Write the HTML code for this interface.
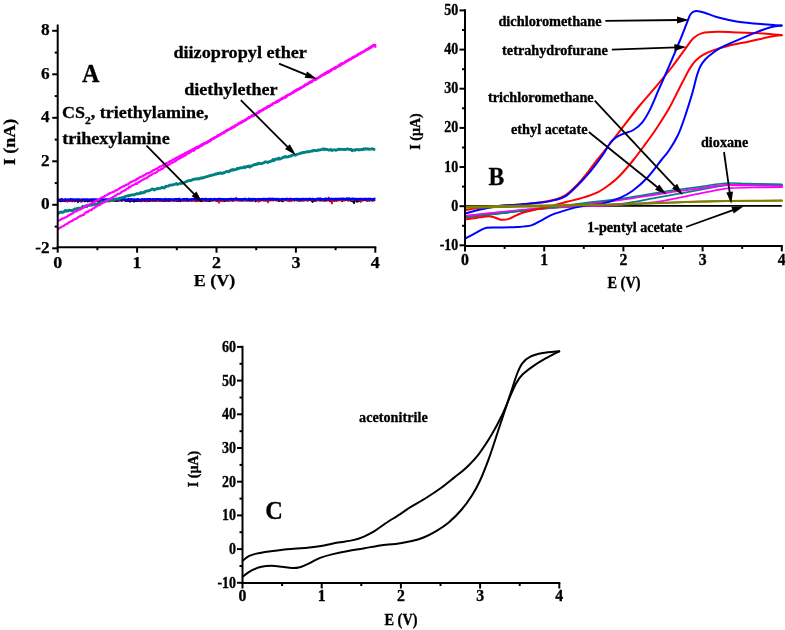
<!DOCTYPE html><html><head><meta charset="utf-8"><title>Figure</title><style>html,body{margin:0;padding:0;background:#fff}svg{display:block}text{font-family:"Liberation Serif","Times New Roman",serif;font-weight:bold;fill:#000}</style></head><body>
<svg width="785" height="630" viewBox="0 0 785 630">
<rect width="785" height="630" fill="#fff"/>
<g id="panelA">
<polyline points="57.7,200.6 58.7,201.0 59.6,201.1 60.6,201.6 61.6,201.2 62.5,201.3 63.5,201.3 64.5,201.2 65.4,201.4 66.4,200.9 67.4,200.9 68.3,200.6 69.3,201.1 70.2,201.2 71.2,201.2 72.2,201.5 73.1,200.8 74.1,201.4 75.1,201.4 76.0,201.1 77.0,200.7 78.0,202.3 78.9,201.2 79.9,200.9 80.9,201.1 81.8,201.6 82.8,200.9 83.8,200.5 84.7,201.4 85.7,201.2 86.7,201.3 87.6,201.7 88.6,201.3 89.6,201.3 90.5,200.7 91.5,201.1 92.5,201.5 93.4,201.3 94.4,201.5 95.3,201.2 96.3,201.2 97.3,201.2 98.2,201.0 99.2,201.6 100.2,201.1 101.1,200.7 102.1,200.8 103.1,200.7 104.0,200.7 105.0,200.6 106.0,201.3 106.9,200.8 107.9,201.5 108.9,201.2 109.8,201.5 110.8,200.7 111.8,200.6 112.7,201.0 113.7,200.5 114.7,201.2 115.6,200.9 116.6,200.9 117.6,201.3 118.5,200.9 119.5,200.5 120.4,200.1 121.4,201.0 122.4,200.5 123.3,200.0 124.3,200.8 125.3,200.9 126.2,201.3 127.2,200.6 128.2,201.3 129.1,200.9 130.1,201.9 131.1,200.9 132.0,200.7 133.0,201.2 134.0,201.7 134.9,201.2 135.9,201.1 136.9,201.1 137.8,201.2 138.8,200.8 139.8,201.2 140.7,200.8 141.7,201.5 142.7,200.4 143.6,200.7 144.6,201.3 145.5,200.9 146.5,199.2 147.5,200.9 148.4,201.1 149.4,201.1 150.4,200.7 151.3,200.8 152.3,201.0 153.3,201.0 154.2,201.0 155.2,200.7 156.2,201.1 157.1,200.8 158.1,200.7 159.1,200.8 160.0,201.1 161.0,200.5 162.0,201.1 162.9,200.8 163.9,201.1 164.9,201.3 165.8,200.8 166.8,200.9 167.7,200.8 168.7,201.0 169.7,201.3 170.6,200.4 171.6,200.7 172.6,200.3 173.5,201.0 174.5,201.0 175.5,200.6 176.4,201.0 177.4,201.3 178.4,201.1 179.3,200.7 180.3,201.5 181.3,200.7 182.2,200.7 183.2,200.9 184.2,200.6 185.1,200.7 186.1,201.1 187.1,200.6 188.0,201.2 189.0,200.8 190.0,200.8 190.9,200.7 191.9,201.0 192.8,200.8 193.8,199.6 194.8,201.0 195.7,200.8 196.7,200.9 197.7,201.2 198.6,200.1 199.6,200.8 200.6,201.2 201.5,200.4 202.5,201.1 203.5,200.7 204.4,200.6 205.4,201.0 206.4,200.9 207.3,200.9 208.3,200.8 209.3,201.2 210.2,201.1 211.2,200.8 212.2,200.5 213.1,200.6 214.1,200.3 215.1,200.6 216.0,200.9 217.0,200.8 217.9,201.3 218.9,201.0 219.9,201.0 220.8,200.7 221.8,200.6 222.8,200.9 223.7,200.9 224.7,201.2 225.7,200.8 226.6,200.7 227.6,200.6 228.6,201.0 229.5,200.2 230.5,200.4 231.5,200.8 232.4,200.9 233.4,200.8 234.4,200.7 235.3,200.1 236.3,200.5 237.3,200.4 238.2,200.4 239.2,200.8 240.2,200.6 241.1,200.8 242.1,200.9 243.0,200.2 244.0,200.8 245.0,200.2 245.9,200.8 246.9,200.6 247.9,200.4 248.8,200.7 249.8,200.9 250.8,200.8 251.7,200.7 252.7,200.9 253.7,200.5 254.6,200.2 255.6,201.4 256.6,200.7 257.5,200.5 258.5,200.8 259.5,200.4 260.4,200.9 261.4,200.6 262.4,199.9 263.3,200.6 264.3,200.6 265.3,200.8 266.2,200.6 267.2,201.0 268.1,200.7 269.1,200.0 270.1,200.4 271.0,200.5 272.0,200.4 273.0,200.2 273.9,200.5 274.9,200.1 275.9,200.4 276.8,200.6 277.8,200.2 278.8,201.3 279.7,200.8 280.7,200.6 281.7,200.9 282.6,201.5 283.6,200.8 284.6,199.9 285.5,200.5 286.5,200.3 287.5,200.7 288.4,200.4 289.4,200.5 290.3,200.2 291.3,201.0 292.3,200.3 293.2,199.5 294.2,200.8 295.2,200.2 296.1,199.6 297.1,200.6 298.1,200.4 299.0,201.0 300.0,200.8 301.0,200.5 301.9,200.6 302.9,200.4 303.9,200.8 304.8,200.1 305.8,200.0 306.8,200.6 307.7,200.6 308.7,200.5 309.7,200.3 310.6,200.1 311.6,200.9 312.6,202.1 313.5,200.9 314.5,201.0 315.4,200.5 316.4,200.9 317.4,200.2 318.3,200.3 319.3,200.8 320.3,200.8 321.2,200.7 322.2,200.2 323.2,200.8 324.1,200.9 325.1,200.6 326.1,200.5 327.0,200.7 328.0,200.1 329.0,200.5 329.9,201.5 330.9,200.6 331.9,200.6 332.8,201.1 333.8,200.5 334.8,201.0 335.7,200.5 336.7,200.9 337.7,200.0 338.6,200.4 339.6,200.3 340.5,200.3 341.5,200.9 342.5,201.1 343.4,200.6 344.4,200.3 345.4,200.5 346.3,200.3 347.3,200.3 348.3,200.9 349.2,197.9 350.2,200.7 351.2,201.0 352.1,201.2 353.1,201.6 354.1,203.4 355.0,200.3 356.0,200.1 357.0,202.1 357.9,200.4 358.9,201.3 359.9,200.4 360.8,200.5 361.8,200.7 362.8,200.4 363.7,200.4 364.7,200.2 365.6,200.1 366.6,201.0 367.6,200.8 368.5,200.6 369.5,200.4 370.5,200.5 371.4,200.1 372.4,201.0 373.4,200.4 374.3,200.5 375.3,200.3" fill="none" stroke="#000" stroke-width="1.6" stroke-linejoin="round"/>
<polyline points="57.7,200.6 58.7,200.0 59.6,200.5 60.6,200.1 61.6,200.5 62.5,200.0 63.5,200.9 64.5,200.3 65.4,200.6 66.4,200.4 67.4,201.8 68.3,200.8 69.3,200.7 70.2,200.3 71.2,201.0 72.2,200.4 73.1,200.8 74.1,200.8 75.1,200.5 76.0,200.3 77.0,200.6 78.0,200.6 78.9,200.4 79.9,200.5 80.9,201.9 81.8,200.4 82.8,200.1 83.8,199.8 84.7,200.2 85.7,200.4 86.7,200.7 87.6,200.4 88.6,200.1 89.6,200.0 90.5,200.7 91.5,200.3 92.5,200.1 93.4,199.8 94.4,200.3 95.3,200.5 96.3,200.6 97.3,200.5 98.2,200.6 99.2,200.1 100.2,200.0 101.1,198.3 102.1,200.5 103.1,200.2 104.0,200.5 105.0,200.3 106.0,200.0 106.9,200.4 107.9,200.9 108.9,200.4 109.8,200.6 110.8,200.8 111.8,200.6 112.7,200.0 113.7,199.8 114.7,200.5 115.6,200.0 116.6,200.0 117.6,200.7 118.5,200.3 119.5,200.3 120.4,200.3 121.4,200.8 122.4,200.4 123.3,200.0 124.3,199.9 125.3,199.8 126.2,200.4 127.2,199.7 128.2,200.1 129.1,200.7 130.1,200.1 131.1,200.4 132.0,200.1 133.0,200.3 134.0,199.9 134.9,200.2 135.9,200.4 136.9,200.0 137.8,200.2 138.8,200.4 139.8,200.5 140.7,201.3 141.7,200.7 142.7,200.4 143.6,199.7 144.6,200.5 145.5,200.3 146.5,201.5 147.5,199.8 148.4,200.0 149.4,200.4 150.4,200.3 151.3,200.5 152.3,200.5 153.3,200.5 154.2,200.5 155.2,199.2 156.2,200.1 157.1,200.3 158.1,200.8 159.1,200.5 160.0,200.0 161.0,198.9 162.0,200.3 162.9,200.8 163.9,199.9 164.9,199.9 165.8,200.7 166.8,200.2 167.7,199.9 168.7,200.5 169.7,199.7 170.6,200.3 171.6,200.5 172.6,199.8 173.5,200.1 174.5,199.1 175.5,200.8 176.4,199.7 177.4,200.5 178.4,200.1 179.3,200.3 180.3,200.1 181.3,199.9 182.2,200.4 183.2,200.0 184.2,200.3 185.1,200.4 186.1,200.3 187.1,200.5 188.0,200.4 189.0,199.9 190.0,200.2 190.9,199.8 191.9,200.0 192.8,200.5 193.8,200.7 194.8,200.4 195.7,200.1 196.7,201.4 197.7,199.9 198.6,200.7 199.6,200.5 200.6,200.1 201.5,199.5 202.5,200.0 203.5,200.5 204.4,200.0 205.4,198.5 206.4,200.3 207.3,200.4 208.3,200.1 209.3,200.0 210.2,199.6 211.2,199.5 212.2,200.4 213.1,200.3 214.1,200.1 215.1,200.2 216.0,199.2 217.0,200.0 217.9,200.0 218.9,202.8 219.9,200.4 220.8,200.4 221.8,200.7 222.8,199.9 223.7,200.1 224.7,200.2 225.7,200.4 226.6,200.6 227.6,200.4 228.6,199.5 229.5,200.8 230.5,200.1 231.5,199.9 232.4,200.0 233.4,200.2 234.4,199.9 235.3,200.4 236.3,197.7 237.3,200.4 238.2,200.3 239.2,200.0 240.2,199.8 241.1,199.7 242.1,199.9 243.0,200.3 244.0,200.4 245.0,200.0 245.9,199.9 246.9,200.4 247.9,200.0 248.8,200.0 249.8,199.7 250.8,199.5 251.7,200.4 252.7,200.2 253.7,200.1 254.6,199.6 255.6,199.0 256.6,200.0 257.5,199.9 258.5,201.8 259.5,199.8 260.4,200.4 261.4,199.5 262.4,199.6 263.3,199.9 264.3,200.3 265.3,199.5 266.2,199.9 267.2,200.0 268.1,202.4 269.1,199.9 270.1,199.7 271.0,199.7 272.0,200.3 273.0,199.8 273.9,199.9 274.9,200.0 275.9,200.2 276.8,199.7 277.8,199.6 278.8,199.9 279.7,199.7 280.7,199.6 281.7,199.5 282.6,199.9 283.6,200.1 284.6,200.1 285.5,200.0 286.5,199.8 287.5,199.7 288.4,200.1 289.4,201.4 290.3,200.2 291.3,201.0 292.3,200.1 293.2,200.2 294.2,199.4 295.2,199.9 296.1,200.0 297.1,200.2 298.1,200.1 299.0,199.8 300.0,199.4 301.0,200.4 301.9,200.2 302.9,200.0 303.9,200.1 304.8,200.4 305.8,199.9 306.8,199.7 307.7,200.4 308.7,199.9 309.7,199.6 310.6,200.3 311.6,199.2 312.6,199.8 313.5,200.2 314.5,199.6 315.4,200.3 316.4,199.6 317.4,200.3 318.3,199.7 319.3,200.1 320.3,198.4 321.2,199.7 322.2,199.6 323.2,200.5 324.1,199.1 325.1,198.5 326.1,198.8 327.0,199.9 328.0,199.6 329.0,197.5 329.9,200.5 330.9,199.4 331.9,203.5 332.8,200.2 333.8,199.9 334.8,199.9 335.7,199.6 336.7,199.9 337.7,199.9 338.6,200.5 339.6,199.7 340.5,200.2 341.5,200.4 342.5,200.3 343.4,199.4 344.4,200.0 345.4,200.1 346.3,200.1 347.3,199.6 348.3,200.0 349.2,200.1 350.2,200.3 351.2,199.9 352.1,199.8 353.1,199.6 354.1,199.8 355.0,199.8 356.0,199.7 357.0,198.8 357.9,199.8 358.9,199.9 359.9,199.4 360.8,202.0 361.8,199.7 362.8,199.4 363.7,200.2 364.7,199.3 365.6,199.7 366.6,199.9 367.6,200.4 368.5,199.5 369.5,200.9 370.5,199.6 371.4,200.1 372.4,200.1 373.4,200.3 374.3,199.6 375.3,199.7" fill="none" stroke="#ff0000" stroke-width="1.8" stroke-linejoin="round"/>
<polyline points="57.7,199.6 58.7,199.8 59.6,199.7 60.6,199.8 61.6,199.2 62.5,199.6 63.5,200.1 64.5,199.9 65.4,199.3 66.4,200.0 67.4,199.8 68.3,199.6 69.3,199.9 70.2,199.4 71.2,199.3 72.2,199.8 73.1,199.4 74.1,199.8 75.1,199.9 76.0,199.6 77.0,199.6 78.0,199.8 78.9,199.5 79.9,200.0 80.9,199.8 81.8,199.9 82.8,199.5 83.8,199.5 84.7,199.5 85.7,199.9 86.7,199.6 87.6,199.5 88.6,200.0 89.6,199.8 90.5,199.5 91.5,199.5 92.5,199.6 93.4,199.5 94.4,199.5 95.3,199.6 96.3,199.6 97.3,199.8 98.2,199.7 99.2,199.7 100.2,199.1 101.1,199.5 102.1,199.6 103.1,199.6 104.0,199.6 105.0,199.7 106.0,199.5 106.9,199.6 107.9,199.4 108.9,199.7 109.8,199.5 110.8,199.4 111.8,199.8 112.7,199.5 113.7,199.5 114.7,199.6 115.6,199.7 116.6,200.0 117.6,199.3 118.5,199.8 119.5,199.8 120.4,199.4 121.4,200.0 122.4,199.3 123.3,199.5 124.3,199.4 125.3,199.6 126.2,199.8 127.2,200.0 128.2,199.2 129.1,199.6 130.1,199.7 131.1,199.2 132.0,199.7 133.0,199.6 134.0,199.6 134.9,199.6 135.9,199.8 136.9,199.6 137.8,199.2 138.8,199.4 139.8,200.2 140.7,199.9 141.7,199.4 142.7,199.5 143.6,199.6 144.6,199.3 145.5,199.9 146.5,199.2 147.5,199.5 148.4,199.4 149.4,199.4 150.4,199.3 151.3,199.6 152.3,199.6 153.3,199.3 154.2,199.5 155.2,199.8 156.2,199.2 157.1,199.2 158.1,199.2 159.1,199.5 160.0,199.4 161.0,199.6 162.0,199.7 162.9,199.5 163.9,199.4 164.9,199.6 165.8,199.1 166.8,199.8 167.7,199.6 168.7,199.6 169.7,199.2 170.6,199.5 171.6,199.5 172.6,199.6 173.5,199.6 174.5,199.7 175.5,199.2 176.4,199.3 177.4,199.2 178.4,199.6 179.3,198.9 180.3,199.7 181.3,199.9 182.2,199.5 183.2,199.4 184.2,199.3 185.1,199.6 186.1,199.3 187.1,199.1 188.0,199.6 189.0,199.6 190.0,199.8 190.9,199.4 191.9,199.2 192.8,199.2 193.8,199.2 194.8,199.1 195.7,199.4 196.7,199.2 197.7,199.6 198.6,199.6 199.6,199.3 200.6,199.6 201.5,199.3 202.5,199.1 203.5,199.3 204.4,199.5 205.4,199.5 206.4,199.1 207.3,199.6 208.3,199.4 209.3,199.4 210.2,199.4 211.2,199.1 212.2,199.5 213.1,199.7 214.1,199.1 215.1,199.3 216.0,199.2 217.0,199.4 217.9,199.2 218.9,199.1 219.9,199.1 220.8,199.4 221.8,199.4 222.8,199.3 223.7,199.3 224.7,199.2 225.7,199.5 226.6,199.8 227.6,199.2 228.6,199.2 229.5,199.2 230.5,199.0 231.5,199.1 232.4,199.4 233.4,199.1 234.4,199.3 235.3,199.1 236.3,199.3 237.3,199.2 238.2,199.3 239.2,199.3 240.2,199.6 241.1,199.3 242.1,199.8 243.0,199.2 244.0,199.1 245.0,198.9 245.9,199.2 246.9,199.5 247.9,199.6 248.8,198.9 249.8,199.6 250.8,199.1 251.7,199.8 252.7,199.3 253.7,199.1 254.6,199.2 255.6,199.3 256.6,199.5 257.5,199.5 258.5,199.1 259.5,199.2 260.4,199.3 261.4,199.2 262.4,199.5 263.3,199.0 264.3,199.0 265.3,199.4 266.2,199.2 267.2,199.0 268.1,199.4 269.1,198.8 270.1,198.9 271.0,199.3 272.0,199.0 273.0,198.9 273.9,199.5 274.9,199.1 275.9,199.3 276.8,199.3 277.8,199.1 278.8,199.3 279.7,199.5 280.7,199.5 281.7,199.2 282.6,199.1 283.6,199.2 284.6,199.3 285.5,199.2 286.5,198.9 287.5,199.1 288.4,199.4 289.4,199.3 290.3,198.9 291.3,199.3 292.3,199.3 293.2,199.2 294.2,199.4 295.2,199.0 296.1,199.7 297.1,198.9 298.1,199.3 299.0,199.5 300.0,199.1 301.0,199.6 301.9,199.1 302.9,199.0 303.9,199.3 304.8,199.3 305.8,199.0 306.8,199.3 307.7,199.2 308.7,199.1 309.7,198.8 310.6,199.3 311.6,199.2 312.6,198.9 313.5,199.7 314.5,199.2 315.4,199.6 316.4,199.6 317.4,198.7 318.3,199.1 319.3,198.8 320.3,199.2 321.2,199.0 322.2,199.2 323.2,199.3 324.1,199.2 325.1,199.1 326.1,198.8 327.0,199.2 328.0,199.1 329.0,199.2 329.9,199.1 330.9,199.4 331.9,198.9 332.8,199.2 333.8,199.1 334.8,199.2 335.7,198.9 336.7,199.0 337.7,199.1 338.6,199.1 339.6,199.0 340.5,198.9 341.5,199.0 342.5,198.8 343.4,198.7 344.4,199.0 345.4,199.4 346.3,198.7 347.3,198.6 348.3,199.2 349.2,199.2 350.2,199.5 351.2,198.9 352.1,199.3 353.1,198.7 354.1,199.6 355.0,199.1 356.0,198.9 357.0,199.2 357.9,199.2 358.9,199.0 359.9,199.2 360.8,199.1 361.8,199.1 362.8,199.2 363.7,199.1 364.7,198.9 365.6,199.1 366.6,199.0 367.6,199.2 368.5,198.9 369.5,199.3 370.5,198.8 371.4,199.7 372.4,199.2 373.4,199.4 374.3,198.8 375.3,199.0" fill="none" stroke="#0000ff" stroke-width="2.6" stroke-linejoin="round"/>
<polyline points="57.7,213.7 58.7,213.2 59.6,212.2 60.6,212.4 61.6,211.9 62.5,212.4 63.5,212.1 64.5,211.2 65.4,210.4 66.4,211.2 67.4,210.6 68.3,211.0 69.3,210.1 70.2,210.5 71.2,210.3 72.2,210.6 73.1,209.9 74.1,209.4 75.1,208.8 76.0,209.4 77.0,208.4 78.0,208.5 78.9,208.2 79.9,208.1 80.9,208.1 81.8,207.6 82.8,206.3 83.8,207.0 84.7,206.5 85.7,205.8 86.7,206.7 87.6,205.6 88.6,205.7 89.6,205.3 90.5,204.9 91.5,205.1 92.5,205.0 93.4,204.5 94.4,204.3 95.3,204.5 96.3,204.1 97.3,204.2 98.2,203.0 99.2,203.6 100.2,202.8 101.1,202.0 102.1,202.0 103.1,202.1 104.0,201.9 105.0,201.6 106.0,200.8 106.9,200.8 107.9,200.7 108.9,199.6 109.8,200.6 110.8,200.3 111.8,200.1 112.7,199.7 113.7,199.5 114.7,199.5 115.6,199.0 116.6,198.8 117.6,198.9 118.5,199.4 119.5,198.0 120.4,198.3 121.4,197.9 122.4,197.4 123.3,197.5 124.3,197.1 125.3,196.4 126.2,196.3 127.2,195.8 128.2,196.0 129.1,195.5 130.1,195.6 131.1,195.1 132.0,194.8 133.0,194.8 134.0,195.0 134.9,194.4 135.9,194.1 136.9,193.6 137.8,193.8 138.8,193.7 139.8,193.7 140.7,192.4 141.7,193.1 142.7,192.9 143.6,192.2 144.6,192.5 145.5,191.2 146.5,191.2 147.5,190.8 148.4,191.0 149.4,190.6 150.4,189.9 151.3,189.7 152.3,188.8 153.3,189.2 154.2,190.1 155.2,189.2 156.2,189.2 157.1,188.5 158.1,188.8 159.1,188.4 160.0,188.4 161.0,187.9 162.0,187.3 162.9,187.8 163.9,188.0 164.9,187.3 165.8,186.1 166.8,186.3 167.7,186.2 168.7,186.1 169.7,185.1 170.6,185.1 171.6,185.0 172.6,184.9 173.5,184.6 174.5,184.4 175.5,184.0 176.4,183.5 177.4,184.5 178.4,184.2 179.3,183.5 180.3,183.3 181.3,183.6 182.2,183.1 183.2,182.8 184.2,182.5 185.1,182.2 186.1,181.8 187.1,181.2 188.0,180.9 189.0,180.6 190.0,180.5 190.9,180.5 191.9,180.1 192.8,179.5 193.8,179.4 194.8,179.0 195.7,179.0 196.7,178.9 197.7,178.6 198.6,179.1 199.6,178.4 200.6,178.4 201.5,177.7 202.5,178.1 203.5,177.5 204.4,177.5 205.4,177.0 206.4,176.6 207.3,176.6 208.3,176.2 209.3,175.9 210.2,175.4 211.2,175.5 212.2,175.0 213.1,174.9 214.1,174.8 215.1,174.2 216.0,173.9 217.0,174.1 217.9,173.1 218.9,173.7 219.9,173.0 220.8,173.0 221.8,173.5 222.8,172.8 223.7,173.1 224.7,172.4 225.7,171.9 226.6,171.3 227.6,171.4 228.6,171.9 229.5,171.2 230.5,170.2 231.5,170.4 232.4,169.5 233.4,170.1 234.4,169.7 235.3,169.7 236.3,169.2 237.3,168.3 238.2,168.9 239.2,168.1 240.2,168.0 241.1,167.7 242.1,167.9 243.0,167.7 244.0,166.8 245.0,167.8 245.9,166.9 246.9,166.4 247.9,166.5 248.8,165.9 249.8,167.2 250.8,166.0 251.7,166.0 252.7,165.4 253.7,165.0 254.6,164.5 255.6,164.6 256.6,163.8 257.5,164.3 258.5,163.2 259.5,163.4 260.4,163.7 261.4,163.6 262.4,163.4 263.3,162.9 264.3,162.4 265.3,161.8 266.2,161.8 267.2,162.4 268.1,162.5 269.1,161.6 270.1,161.7 271.0,161.0 272.0,160.9 273.0,159.5 273.9,160.7 274.9,159.6 275.9,158.8 276.8,159.3 277.8,159.1 278.8,158.0 279.7,159.1 280.7,158.7 281.7,158.3 282.6,157.5 283.6,157.2 284.6,157.4 285.5,156.4 286.5,157.1 287.5,156.8 288.4,156.8 289.4,156.0 290.3,156.2 291.3,156.1 292.3,155.1 293.2,155.0 294.2,154.8 295.2,155.3 296.1,154.9 297.1,154.3 298.1,154.0 299.0,153.8 300.0,153.4 301.0,152.9 301.9,153.2 302.9,152.5 303.9,152.5 304.8,152.4 305.8,152.2 306.8,151.7 307.7,151.7 308.7,151.9 309.7,151.4 310.6,151.3 311.6,151.0 312.6,151.1 313.5,150.4 314.5,150.4 315.4,150.6 316.4,150.6 317.4,150.5 318.3,149.8 319.3,150.1 320.3,149.9 321.2,149.7 322.2,149.2 323.2,148.9 324.1,149.7 325.1,148.9 326.1,149.5 327.0,149.3 328.0,149.8 329.0,150.2 329.9,149.7 330.9,149.5 331.9,150.5 332.8,150.0 333.8,149.9 334.8,149.8 335.7,150.3 336.7,150.1 337.7,149.5 338.6,149.1 339.6,149.6 340.5,149.2 341.5,149.4 342.5,149.3 343.4,149.5 344.4,149.4 345.4,149.5 346.3,149.3 347.3,148.9 348.3,149.3 349.2,149.2 350.2,149.7 351.2,149.3 352.1,150.7 353.1,150.1 354.1,149.8 355.0,150.3 356.0,149.5 357.0,149.6 357.9,149.9 358.9,149.5 359.9,150.0 360.8,149.7 361.8,149.4 362.8,149.8 363.7,148.8 364.7,149.3 365.6,148.7 366.6,149.0 367.6,148.9 368.5,149.3 369.5,149.1 370.5,149.2 371.4,149.0 372.4,148.7 373.4,149.4 374.3,149.3 375.3,149.2" fill="none" stroke="#008080" stroke-width="2.8" stroke-linejoin="round"/>
<polyline points="57.7,228.9 58.7,228.6 59.6,228.1 60.6,227.6 61.6,226.9 62.5,226.3 63.5,226.0 64.5,225.3 65.4,224.5 66.4,224.1 67.4,223.7 68.3,222.8 69.3,222.3 70.2,221.7 71.2,221.1 72.2,220.9 73.1,220.1 74.1,219.6 75.1,219.0 76.0,219.0 77.0,218.0 78.0,217.3 78.9,216.7 79.9,216.4 80.9,215.7 81.8,215.6 82.8,215.0 83.8,214.8 84.7,213.5 85.7,212.5 86.7,211.9 87.6,212.1 88.6,211.1 89.6,210.4 90.5,210.2 91.5,210.1 92.5,208.6 93.4,208.5 94.4,208.0 95.3,206.9 96.3,206.6 97.3,206.0 98.2,205.2 99.2,205.1 100.2,204.8 101.1,203.8 102.1,203.4 103.1,202.6 104.0,202.2 105.0,201.9 106.0,201.1 106.9,200.7 107.9,200.1 108.9,199.5 109.8,198.8 110.8,198.3 111.8,198.1 112.7,197.1 113.7,197.0 114.7,195.5 115.6,195.8 116.6,195.0 117.6,194.1 118.5,193.9 119.5,193.6 120.4,193.1 121.4,192.1 122.4,191.5 123.3,190.9 124.3,190.4 125.3,190.1 126.2,189.3 127.2,188.5 128.2,188.5 129.1,186.8 130.1,187.3 131.1,186.3 132.0,185.5 133.0,185.2 134.0,184.8 134.9,184.2 135.9,183.4 136.9,183.9 137.8,182.6 138.8,182.2 139.8,181.7 140.7,181.0 141.7,180.4 142.7,179.7 143.6,179.5 144.6,178.5 145.5,178.7 146.5,177.9 147.5,177.4 148.4,176.5 149.4,176.1 150.4,175.3 151.3,175.0 152.3,173.9 153.3,173.5 154.2,173.3 155.2,173.0 156.2,172.4 157.1,171.9 158.1,170.6 159.1,170.2 160.0,170.1 161.0,168.8 162.0,168.8 162.9,168.7 163.9,167.3 164.9,166.7 165.8,166.4 166.8,166.1 167.7,165.0 168.7,164.9 169.7,164.2 170.6,163.5 171.6,163.0 172.6,162.6 173.5,162.2 174.5,161.2 175.5,161.4 176.4,160.2 177.4,159.7 178.4,159.0 179.3,158.7 180.3,158.0 181.3,157.3 182.2,157.2 183.2,156.4 184.2,155.7 185.1,155.6 186.1,154.9 187.1,153.7 188.0,153.3 189.0,153.2 190.0,152.3 190.9,151.8 191.9,151.0 192.8,150.5 193.8,150.8 194.8,149.7 195.7,148.7 196.7,148.1 197.7,148.1 198.6,147.7 199.6,146.8 200.6,146.5 201.5,145.7 202.5,145.5 203.5,144.4 204.4,143.9 205.4,143.4 206.4,143.2 207.3,142.8 208.3,142.1 209.3,141.1 210.2,141.2 211.2,140.0 212.2,139.1 213.1,139.2 214.1,138.5 215.1,137.6 216.0,137.1 217.0,136.9 217.9,136.3 218.9,135.6 219.9,135.2 220.8,134.4 221.8,133.9 222.8,133.1 223.7,133.3 224.7,132.0 225.7,131.5 226.6,131.2 227.6,130.5 228.6,129.8 229.5,129.4 230.5,129.0 231.5,128.3 232.4,128.0 233.4,127.6 234.4,126.9 235.3,126.3 236.3,125.5 237.3,124.8 238.2,124.4 239.2,123.5 240.2,123.3 241.1,122.9 242.1,122.4 243.0,121.9 244.0,121.2 245.0,120.2 245.9,120.4 246.9,119.3 247.9,118.8 248.8,118.1 249.8,117.8 250.8,117.0 251.7,116.7 252.7,115.9 253.7,116.0 254.6,114.8 255.6,114.2 256.6,114.2 257.5,113.0 258.5,113.0 259.5,111.9 260.4,111.6 261.4,110.8 262.4,110.3 263.3,110.2 264.3,108.9 265.3,108.4 266.2,108.5 267.2,107.5 268.1,107.0 269.1,106.7 270.1,106.2 271.0,105.1 272.0,104.9 273.0,104.0 273.9,103.2 274.9,103.0 275.9,102.8 276.8,101.8 277.8,101.8 278.8,101.1 279.7,99.6 280.7,100.0 281.7,99.1 282.6,98.9 283.6,98.1 284.6,97.5 285.5,97.7 286.5,96.6 287.5,95.7 288.4,95.1 289.4,94.7 290.3,94.4 291.3,93.5 292.3,93.2 293.2,92.7 294.2,92.0 295.2,90.8 296.1,91.1 297.1,90.0 298.1,89.6 299.0,89.5 300.0,88.8 301.0,88.1 301.9,87.6 302.9,86.8 303.9,86.6 304.8,86.1 305.8,85.0 306.8,84.7 307.7,84.3 308.7,83.6 309.7,82.5 310.6,82.6 311.6,82.3 312.6,81.1 313.5,80.2 314.5,79.9 315.4,80.0 316.4,79.6 317.4,78.2 318.3,78.0 319.3,77.3 320.3,76.9 321.2,75.8 322.2,75.7 323.2,75.2 324.1,74.6 325.1,74.4 326.1,73.4 327.0,72.9 328.0,72.9 329.0,72.1 329.9,71.6 330.9,71.1 331.9,70.0 332.8,69.3 333.8,68.9 334.8,68.8 335.7,68.4 336.7,67.1 337.7,66.9 338.6,66.2 339.6,66.0 340.5,65.6 341.5,64.0 342.5,64.1 343.4,63.5 344.4,63.2 345.4,61.9 346.3,61.8 347.3,61.2 348.3,60.6 349.2,60.1 350.2,59.1 351.2,59.4 352.1,58.2 353.1,58.0 354.1,57.4 355.0,56.9 356.0,56.0 357.0,55.9 357.9,55.2 358.9,54.3 359.9,54.1 360.8,53.5 361.8,52.7 362.8,52.2 363.7,51.8 364.7,51.1 365.6,50.8 366.6,49.8 367.6,49.7 368.5,49.3 369.5,48.2 370.5,48.1 371.4,47.4 372.4,46.7 373.4,45.9 374.3,45.6 375.3,45.1 375.3,47.8" fill="none" stroke="#ff00ff" stroke-width="2.2" stroke-linejoin="round"/>
<polyline points="57.7,221.3 58.7,220.6 59.6,220.3 60.6,219.6 61.6,218.8 62.5,218.7 63.5,218.2 64.5,217.9 65.4,217.3 66.4,216.9 67.4,216.4 68.3,215.7 69.3,215.0 70.2,214.4 71.2,214.2 72.2,213.4 73.1,213.4 74.1,212.0 75.1,211.3 76.0,211.5 77.0,210.8 78.0,210.4 78.9,209.7 79.9,209.6 80.9,209.3 81.8,208.2 82.8,208.2 83.8,207.3 84.7,207.1 85.7,206.5 86.7,205.6 87.6,204.9 88.6,204.8 89.6,204.4 90.5,203.7 91.5,203.4 92.5,203.2 93.4,202.2 94.4,202.3 95.3,201.1 96.3,200.8 97.3,200.1 98.2,200.0 99.2,199.3 100.2,198.5 101.1,197.8 102.1,197.4 103.1,197.0 104.0,196.9 105.0,195.9 106.0,195.5 106.9,195.1 107.9,194.2 108.9,194.2 109.8,193.0 110.8,193.1 111.8,192.6 112.7,192.0 113.7,191.8 114.7,191.0 115.6,190.4 116.6,190.3 117.6,189.6 118.5,189.2 119.5,188.5 120.4,187.5 121.4,187.4 122.4,186.9 123.3,186.2 124.3,186.1 125.3,185.2 126.2,184.9 127.2,184.4 128.2,184.2 129.1,183.4 130.1,182.4 131.1,181.9 132.0,181.7 133.0,181.1 134.0,180.7 134.9,180.4 135.9,180.1 136.9,178.6 137.8,178.8 138.8,178.0 139.8,177.1 140.7,177.1 141.7,176.6 142.7,175.9 143.6,175.6 144.6,174.9 145.5,174.5 146.5,173.6 147.5,173.3 148.4,173.2 149.4,172.7 150.4,172.1 151.3,171.5 152.3,171.0 153.3,170.1 154.2,170.0 155.2,169.4 156.2,168.8 157.1,168.8 158.1,167.7 159.1,167.1 160.0,166.4 161.0,166.5 162.0,165.8 162.9,165.1 163.9,164.8 164.9,164.5 165.8,163.4 166.8,163.2 167.7,162.5 168.7,162.4 169.7,161.3 170.6,161.2 171.6,160.8 172.6,159.8 173.5,159.3 174.5,159.3 175.5,158.3 176.4,157.6 177.4,157.4 178.4,157.3 179.3,156.3 180.3,155.7 181.3,155.7 182.2,154.5 183.2,154.4 184.2,153.9 185.1,153.1 186.1,152.8 187.1,152.0 188.0,151.8 189.0,151.2 190.0,150.8 190.9,150.2 191.9,149.6 192.8,149.1 193.8,148.8 194.8,148.0 195.7,147.7 196.7,146.9 197.7,146.5 198.6,146.2 199.6,145.8 200.6,145.1 201.5,144.3 202.5,144.1 203.5,143.3 204.4,143.1 205.4,142.7 206.4,142.2 207.3,142.1 208.3,141.0 209.3,140.5 210.2,139.9 211.2,139.2 212.2,139.1 213.1,137.8 214.1,138.1 215.1,137.1 216.0,136.9 217.0,136.1 217.9,135.1 218.9,135.3 219.9,134.3 220.8,133.7 221.8,133.2 222.8,132.6 223.7,131.9 224.7,131.4 225.7,130.9 226.6,130.2 227.6,129.7 228.6,129.3 229.5,129.0 230.5,128.0 231.5,127.7 232.4,126.6 233.4,126.6 234.4,126.2 235.3,125.1 236.3,125.0 237.3,124.6 238.2,123.4 239.2,123.5 240.2,122.2 241.1,122.3 242.1,121.3 243.0,120.8 244.0,120.8 245.0,119.8 245.9,119.3 246.9,118.6 247.9,118.0 248.8,117.1 249.8,117.0 250.8,116.4 251.7,115.3 252.7,115.1 253.7,114.5 254.6,114.6 255.6,114.0 256.6,113.2 257.5,112.5 258.5,111.8 259.5,110.7 260.4,111.1 261.4,110.4 262.4,109.5 263.3,109.1 264.3,108.3 265.3,108.1 266.2,107.7 267.2,106.3 268.1,106.2 269.1,106.1 270.1,105.3 271.0,104.7 272.0,104.5 273.0,103.3 273.9,102.9 274.9,102.5 275.9,102.0 276.8,100.9 277.8,100.8 278.8,100.4 279.7,100.2 280.7,99.3 281.7,98.3 282.6,97.6 283.6,97.7 284.6,97.4 285.5,96.3 286.5,95.7 287.5,94.9 288.4,94.8 289.4,94.0 290.3,93.9 291.3,93.2 292.3,92.5 293.2,91.9 294.2,91.1 295.2,90.3 296.1,90.5 297.1,89.1 298.1,89.2 299.0,88.5 300.0,87.6 301.0,87.9 301.9,87.1 302.9,86.4 303.9,85.6 304.8,84.8 305.8,84.2 306.8,84.2 307.7,83.2 308.7,82.9 309.7,81.9 310.6,81.8 311.6,80.9 312.6,80.8 313.5,79.8 314.5,79.8 315.4,78.9 316.4,78.8 317.4,77.8 318.3,77.4 319.3,76.9 320.3,76.0 321.2,75.3 322.2,74.9 323.2,74.3 324.1,73.7 325.1,73.0 326.1,72.5 327.0,72.1 328.0,71.1 329.0,71.2 329.9,70.3 330.9,70.2 331.9,68.8 332.8,68.9 333.8,68.2 334.8,67.3 335.7,67.2 336.7,66.8 337.7,66.5 338.6,65.5 339.6,64.4 340.5,64.3 341.5,63.3 342.5,63.0 343.4,62.8 344.4,62.5 345.4,61.6 346.3,60.8 347.3,60.5 348.3,59.8 349.2,59.2 350.2,58.8 351.2,58.6 352.1,57.7 353.1,56.9 354.1,56.7 355.0,56.2 356.0,55.7 357.0,54.9 357.9,54.3 358.9,53.7 359.9,53.5 360.8,52.6 361.8,52.2 362.8,51.7 363.7,51.4 364.7,50.6 365.6,50.0 366.6,49.2 367.6,48.6 368.5,48.1 369.5,47.5 370.5,47.3 371.4,46.2 372.4,45.7 373.4,45.1 374.3,44.9 375.3,44.2" fill="none" stroke="#ff00ff" stroke-width="2.2" stroke-linejoin="round"/>
<line x1="57.7" y1="24.5" x2="57.7" y2="248.2" stroke="#000" stroke-width="2.0"/>
<line x1="56.7" y1="247.2" x2="376.3" y2="247.2" stroke="#000" stroke-width="2.0"/>
<line x1="52.2" y1="30.8" x2="57.7" y2="30.8" stroke="#000" stroke-width="2.0"/>
<text x="49.6" y="35.4" font-size="17.3" stroke="#000" stroke-width="0.25" text-anchor="end" >8</text>
<line x1="52.2" y1="74.3" x2="57.7" y2="74.3" stroke="#000" stroke-width="2.0"/>
<text x="49.6" y="78.9" font-size="17.3" stroke="#000" stroke-width="0.25" text-anchor="end" >6</text>
<line x1="52.2" y1="117.8" x2="57.7" y2="117.8" stroke="#000" stroke-width="2.0"/>
<text x="49.6" y="122.4" font-size="17.3" stroke="#000" stroke-width="0.25" text-anchor="end" >4</text>
<line x1="52.2" y1="161.3" x2="57.7" y2="161.3" stroke="#000" stroke-width="2.0"/>
<text x="49.6" y="165.9" font-size="17.3" stroke="#000" stroke-width="0.25" text-anchor="end" >2</text>
<line x1="52.2" y1="204.8" x2="57.7" y2="204.8" stroke="#000" stroke-width="2.0"/>
<text x="49.6" y="209.4" font-size="17.3" stroke="#000" stroke-width="0.25" text-anchor="end" >0</text>
<line x1="52.2" y1="248.3" x2="57.7" y2="248.3" stroke="#000" stroke-width="2.0"/>
<text x="49.6" y="252.9" font-size="17.3" stroke="#000" stroke-width="0.25" text-anchor="end" >-2</text>
<line x1="54.7" y1="52.6" x2="57.7" y2="52.6" stroke="#000" stroke-width="2.0"/>
<line x1="54.7" y1="96.1" x2="57.7" y2="96.1" stroke="#000" stroke-width="2.0"/>
<line x1="54.7" y1="139.6" x2="57.7" y2="139.6" stroke="#000" stroke-width="2.0"/>
<line x1="54.7" y1="183.1" x2="57.7" y2="183.1" stroke="#000" stroke-width="2.0"/>
<line x1="54.7" y1="226.6" x2="57.7" y2="226.6" stroke="#000" stroke-width="2.0"/>
<line x1="57.7" y1="247.2" x2="57.7" y2="252.7" stroke="#000" stroke-width="2.0"/>
<text x="57.7" y="268.2" font-size="16.3" stroke="#000" stroke-width="0.25" textLength="9.0" lengthAdjust="spacingAndGlyphs" text-anchor="middle" >0</text>
<line x1="97.4" y1="247.2" x2="97.4" y2="250.2" stroke="#000" stroke-width="2.0"/>
<line x1="137.1" y1="247.2" x2="137.1" y2="252.7" stroke="#000" stroke-width="2.0"/>
<text x="137.1" y="268.2" font-size="16.3" stroke="#000" stroke-width="0.25" textLength="9.0" lengthAdjust="spacingAndGlyphs" text-anchor="middle" >1</text>
<line x1="176.8" y1="247.2" x2="176.8" y2="250.2" stroke="#000" stroke-width="2.0"/>
<line x1="216.5" y1="247.2" x2="216.5" y2="252.7" stroke="#000" stroke-width="2.0"/>
<text x="216.5" y="268.2" font-size="16.3" stroke="#000" stroke-width="0.25" textLength="9.0" lengthAdjust="spacingAndGlyphs" text-anchor="middle" >2</text>
<line x1="256.2" y1="247.2" x2="256.2" y2="250.2" stroke="#000" stroke-width="2.0"/>
<line x1="295.9" y1="247.2" x2="295.9" y2="252.7" stroke="#000" stroke-width="2.0"/>
<text x="295.9" y="268.2" font-size="16.3" stroke="#000" stroke-width="0.25" textLength="9.0" lengthAdjust="spacingAndGlyphs" text-anchor="middle" >3</text>
<line x1="335.6" y1="247.2" x2="335.6" y2="250.2" stroke="#000" stroke-width="2.0"/>
<line x1="375.3" y1="247.2" x2="375.3" y2="252.7" stroke="#000" stroke-width="2.0"/>
<text x="375.3" y="268.2" font-size="16.3" stroke="#000" stroke-width="0.25" textLength="9.0" lengthAdjust="spacingAndGlyphs" text-anchor="middle" >4</text>
<text x="214.5" y="286.4" font-size="17" stroke="#000" stroke-width="0.25" textLength="41.5" lengthAdjust="spacingAndGlyphs" text-anchor="middle" >E (V)</text>
<text x="0" y="0" font-size="17" stroke="#000" stroke-width="0.25" textLength="46.5" lengthAdjust="spacingAndGlyphs" text-anchor="middle" transform="translate(15.0 142.0) rotate(-90)" >I (nA)</text>
<text x="82.0" y="82.2" font-size="24.5" stroke="#000" stroke-width="0.3" textLength="17.5" lengthAdjust="spacingAndGlyphs" >A</text>
<text x="173.4" y="58.4" font-size="17.3" stroke="#000" stroke-width="0.3" textLength="133.5" lengthAdjust="spacingAndGlyphs" >diizopropyl ether</text>
<text x="184.2" y="95.2" font-size="17.3" stroke="#000" stroke-width="0.3" textLength="93.4" lengthAdjust="spacingAndGlyphs" >diethylether</text>
<text x="62.0" y="117.6" font-size="17.3" stroke="#000" stroke-width="0.3" textLength="146.5" lengthAdjust="spacingAndGlyphs" >CS<tspan font-size="11" dy="6.5">2</tspan><tspan dy="-6.5">, triethylamine,</tspan></text>
<text x="62.2" y="143.8" font-size="17.3" stroke="#000" stroke-width="0.3" textLength="107.5" lengthAdjust="spacingAndGlyphs" >trihexylamine</text>
<line x1="279.0" y1="63.7" x2="307.7" y2="75.3" stroke="#000" stroke-width="1.8"/>
<polygon points="317.0,79.0 304.6,77.7 307.1,71.4" fill="#000"/>
<line x1="240.8" y1="100.1" x2="288.8" y2="148.1" stroke="#000" stroke-width="1.8"/>
<polygon points="295.9,155.2 285.0,149.1 289.8,144.3" fill="#000"/>
<line x1="146.5" y1="145.7" x2="195.4" y2="195.3" stroke="#000" stroke-width="1.8"/>
<polygon points="202.4,202.4 191.6,196.2 196.4,191.5" fill="#000"/>
</g>
<g id="panelB">
<line x1="465.0" y1="205.9" x2="781.8" y2="205.9" stroke="#000" stroke-width="1.8"/>
<path d="M465.0 217.4 C470.8 216.8 489.0 214.7 500.0 213.5 C511.0 212.3 521.0 211.0 531.0 210.0 C541.0 209.0 551.5 208.0 560.0 207.4 C568.5 206.8 574.5 206.6 582.0 206.2 C589.5 205.8 597.8 205.5 605.0 205.0 C612.2 204.5 616.6 204.6 625.0 203.4 C633.4 202.2 645.4 199.7 655.6 197.9 C665.8 196.1 675.9 194.3 686.1 192.4 C696.3 190.5 709.2 188.0 716.7 186.7 C724.2 185.4 724.3 185.2 731.0 184.8 C737.7 184.4 748.5 184.0 757.0 184.0 C765.5 184.0 777.8 184.5 782.0 184.6" fill="none" stroke="#008080" stroke-width="1.7" stroke-linejoin="round" stroke-linecap="round" />
<path d="M465.0 216.1 C470.8 215.5 487.2 213.6 500.0 212.3 C512.8 211.0 531.5 209.2 541.5 208.3 C551.5 207.5 553.2 207.5 560.0 207.2 C566.8 206.9 574.5 206.6 582.0 206.3 C589.5 206.0 597.8 205.9 605.0 205.6 C612.2 205.3 616.6 205.0 625.0 204.4 C633.4 203.8 647.1 203.2 655.6 202.2 C664.1 201.2 669.2 199.6 676.0 198.3 C682.8 197.0 689.5 195.6 696.3 194.2 C703.1 192.8 710.9 191.1 716.7 190.1 C722.5 189.1 724.2 188.6 731.0 188.2 C737.8 187.8 749.0 187.6 757.5 187.4 C766.0 187.2 777.9 187.2 782.0 187.2" fill="none" stroke="#ff00ff" stroke-width="1.7" stroke-linejoin="round" stroke-linecap="round" />
<path d="M465.0 216.1 C470.8 215.5 487.2 213.6 500.0 212.3 C512.8 211.0 531.5 209.2 541.5 208.3 C551.5 207.4 553.2 207.3 560.0 206.6 C566.8 205.9 572.0 205.4 582.0 204.3 C592.0 203.2 606.0 201.8 620.0 199.9 C634.0 198.0 651.4 194.9 665.8 192.8 C680.2 190.7 696.6 188.6 706.5 187.3 C716.4 186.0 718.1 185.3 724.9 185.0 C731.7 184.7 737.8 185.0 747.3 185.2 C756.8 185.3 776.2 185.8 782.0 185.9" fill="none" stroke="#ff00ff" stroke-width="2.2" stroke-linejoin="round" stroke-linecap="round" />
<path d="M465.0 217.4 C470.8 216.8 489.0 214.7 500.0 213.5 C511.0 212.3 521.0 211.2 531.0 210.0 C541.0 208.8 551.5 207.6 560.0 206.5 C568.5 205.4 571.2 204.7 582.0 203.3 C592.8 201.9 611.0 199.9 625.0 197.9 C639.0 195.9 652.2 193.2 665.8 191.2 C679.4 189.2 696.6 187.0 706.5 185.7 C716.4 184.4 718.1 183.6 724.9 183.2 C731.7 182.8 737.8 183.3 747.3 183.5 C756.8 183.7 776.2 184.3 782.0 184.5" fill="none" stroke="#008080" stroke-width="1.5" stroke-linejoin="round" stroke-linecap="round" />
<path d="M465.1 219.3 C467.0 219.1 472.1 218.4 476.3 217.9 C480.6 217.4 486.5 216.1 490.6 216.4 C494.7 216.7 497.8 219.3 500.8 219.7 C503.9 220.1 505.5 220.0 508.9 218.9 C512.3 217.8 516.4 214.8 521.1 213.2 C525.9 211.6 532.3 210.3 537.4 209.1 C542.5 207.9 546.9 207.3 551.7 206.1 C556.5 204.9 560.9 203.4 566.0 202.0 C571.1 200.6 576.9 199.6 582.3 197.9 C587.7 196.2 593.9 194.2 598.6 191.8 C603.4 189.4 607.2 186.3 610.8 183.6 C614.4 180.9 616.2 179.4 620.0 175.5 C623.8 171.6 629.5 164.8 633.4 160.0 C637.3 155.2 639.8 151.7 643.6 146.5 C647.4 141.3 652.0 135.1 656.3 128.7 C660.5 122.3 665.1 115.4 669.1 108.3 C673.1 101.2 678.0 90.8 680.5 86.0 C683.0 81.2 682.7 81.8 683.9 79.6 C685.1 77.3 686.2 74.9 687.5 72.5 C688.8 70.1 690.3 67.4 691.8 65.3 C693.3 63.2 694.7 61.4 696.6 59.7 C698.5 58.0 700.4 56.4 703.0 54.9 C705.6 53.4 708.5 52.0 712.5 50.6 C716.5 49.2 720.8 47.7 726.9 46.2 C733.0 44.7 741.8 43.0 749.2 41.4 C756.6 39.8 766.1 37.6 771.5 36.6 C776.9 35.6 780.0 35.4 781.7 35.2" fill="none" stroke="#ff0000" stroke-width="2.0" stroke-linejoin="round" stroke-linecap="round" />
<path d="M781.7 35.2 C778.6 34.9 770.6 33.9 763.3 33.4 C756.0 32.9 745.5 32.7 737.9 32.4 C730.3 32.1 723.5 31.7 717.5 31.8 C711.5 31.9 706.2 32.0 702.2 33.1 C698.2 34.2 696.1 35.7 693.3 38.2 C690.5 40.8 689.2 43.5 685.6 48.4 C682.0 53.3 676.9 60.7 671.6 67.5 C666.3 74.3 659.3 82.6 653.8 89.2 C648.3 95.8 644.0 100.2 638.5 107.0 C633.0 113.8 625.8 123.3 620.7 129.9 C615.6 136.5 611.7 141.6 607.9 146.5 C604.1 151.4 601.0 154.9 597.7 159.2 C594.4 163.4 591.2 167.9 588.0 172.0 C584.8 176.1 581.9 179.9 578.2 183.7 C574.5 187.5 569.7 192.3 566.0 194.9 C562.3 197.5 559.9 198.1 555.8 199.3 C551.7 200.5 547.3 201.3 541.5 202.2 C535.7 203.0 527.9 203.8 521.1 204.4 C514.3 205.0 507.6 205.3 500.8 205.9 C494.0 206.5 486.4 207.1 480.4 207.8 C474.4 208.5 467.6 209.7 465.0 210.1" fill="none" stroke="#ff0000" stroke-width="2.0" stroke-linejoin="round" stroke-linecap="round" />
<path d="M465.1 238.7 C467.0 237.7 472.7 234.4 476.3 232.6 C479.9 230.8 482.4 228.7 486.5 227.8 C490.6 227.0 495.7 227.6 500.8 227.5 C505.9 227.4 512.0 227.3 517.1 227.0 C522.2 226.7 527.2 226.5 531.3 225.4 C535.4 224.3 538.1 222.1 541.5 220.3 C544.9 218.5 547.6 216.5 551.7 214.8 C555.8 213.1 560.9 211.6 566.0 210.1 C571.1 208.6 576.2 207.2 582.3 206.1 C588.4 205.0 596.4 204.8 602.7 203.4 C609.0 202.0 615.0 200.1 620.0 197.9 C625.0 195.8 628.5 193.8 633.0 190.5 C637.5 187.2 642.3 183.1 647.0 178.0 C651.7 172.9 657.7 164.6 661.4 160.0 C665.1 155.4 666.3 154.5 669.1 150.3 C671.9 146.1 675.2 140.9 678.0 135.0 C680.8 129.1 683.3 121.4 685.6 114.6 C687.9 107.8 690.1 100.7 692.0 94.3 C693.9 87.9 695.4 80.6 696.8 76.0 C698.2 71.4 698.9 69.2 700.3 66.5 C701.7 63.8 703.2 61.7 705.2 59.5 C707.2 57.3 710.0 55.2 712.5 53.3 C715.0 51.3 716.5 49.9 720.5 47.8 C724.5 45.7 730.6 43.1 736.4 40.6 C742.2 38.1 749.6 34.9 755.5 32.6 C761.4 30.3 767.1 28.2 771.5 27.0 C775.9 25.8 780.0 25.8 781.7 25.5" fill="none" stroke="#0000ff" stroke-width="2.0" stroke-linejoin="round" stroke-linecap="round" />
<path d="M781.7 25.5 C778.6 25.3 770.6 24.8 763.3 24.2 C756.0 23.6 745.5 22.8 737.9 21.7 C730.3 20.6 723.0 18.8 717.5 17.3 C712.0 15.8 708.3 13.8 704.7 12.7 C701.1 11.6 698.1 10.8 695.8 11.0 C693.5 11.2 692.2 12.0 690.7 14.0 C689.2 16.0 688.8 18.2 686.9 22.9 C685.0 27.6 682.3 34.8 679.3 42.0 C676.3 49.2 672.5 58.3 669.1 66.2 C665.7 74.1 662.1 82.0 658.9 89.2 C655.7 96.4 652.8 104.1 650.0 109.6 C647.2 115.1 645.1 118.9 642.3 122.3 C639.5 125.7 636.6 128.1 633.4 130.0 C630.2 131.9 626.2 132.5 623.2 133.8 C620.2 135.1 617.8 136.0 615.6 137.6 C613.4 139.2 611.9 140.6 609.8 143.5 C607.6 146.4 605.9 150.3 602.7 155.0 C599.5 159.7 594.5 166.5 590.4 171.4 C586.3 176.3 582.3 180.6 578.2 184.7 C574.1 188.8 569.7 193.4 566.0 195.9 C562.3 198.4 559.9 198.8 555.8 199.9 C551.7 201.0 547.3 201.8 541.5 202.6 C535.7 203.3 527.7 203.9 521.1 204.4 C514.5 204.9 506.9 205.1 502.0 205.6 C497.1 206.1 495.6 206.6 492.0 207.3 C488.4 208.0 484.9 208.6 480.4 209.6 C475.9 210.6 467.7 212.9 465.1 213.6" fill="none" stroke="#0000ff" stroke-width="2.0" stroke-linejoin="round" stroke-linecap="round" />
<path d="M465.0 206.4 C470.8 206.3 487.3 206.2 500.0 206.0 C512.7 205.8 531.0 205.6 541.0 205.5 C551.0 205.4 553.2 205.3 560.0 205.2 C566.8 205.1 571.2 205.0 582.0 204.8 C592.8 204.6 607.7 204.4 625.0 203.9 C642.3 203.4 669.0 202.5 686.0 202.0 C703.0 201.5 711.0 201.1 727.0 200.9 C743.0 200.7 772.8 200.7 782.0 200.6" fill="none" stroke="#808000" stroke-width="2.0" stroke-linejoin="round" stroke-linecap="round" />
<path d="M465.0 207.8 C470.8 207.7 487.3 207.4 500.0 207.2 C512.7 207.0 531.0 206.7 541.0 206.5 C551.0 206.3 553.2 206.2 560.0 206.0 C566.8 205.8 571.2 205.7 582.0 205.4 C592.8 205.1 607.7 204.8 625.0 204.3 C642.3 203.8 669.0 202.8 686.0 202.2 C703.0 201.6 711.0 201.2 727.0 201.0 C743.0 200.8 772.8 200.8 782.0 200.7" fill="none" stroke="#808000" stroke-width="1.8" stroke-linejoin="round" stroke-linecap="round" />
<line x1="465.0" y1="9.2" x2="465.0" y2="246.9" stroke="#000" stroke-width="2.0"/>
<line x1="464.0" y1="245.9" x2="782.8" y2="245.9" stroke="#000" stroke-width="2.0"/>
<line x1="459.5" y1="10.4" x2="465.0" y2="10.4" stroke="#000" stroke-width="2.0"/>
<text x="458.3" y="14.9" font-size="17" stroke="#000" stroke-width="0.35" textLength="14.0" lengthAdjust="spacingAndGlyphs" text-anchor="end" >50</text>
<line x1="459.5" y1="49.6" x2="465.0" y2="49.6" stroke="#000" stroke-width="2.0"/>
<text x="458.3" y="54.1" font-size="17" stroke="#000" stroke-width="0.35" textLength="14.0" lengthAdjust="spacingAndGlyphs" text-anchor="end" >40</text>
<line x1="459.5" y1="88.7" x2="465.0" y2="88.7" stroke="#000" stroke-width="2.0"/>
<text x="458.3" y="93.2" font-size="17" stroke="#000" stroke-width="0.35" textLength="14.0" lengthAdjust="spacingAndGlyphs" text-anchor="end" >30</text>
<line x1="459.5" y1="127.9" x2="465.0" y2="127.9" stroke="#000" stroke-width="2.0"/>
<text x="458.3" y="132.4" font-size="17" stroke="#000" stroke-width="0.35" textLength="14.0" lengthAdjust="spacingAndGlyphs" text-anchor="end" >20</text>
<line x1="459.5" y1="167.0" x2="465.0" y2="167.0" stroke="#000" stroke-width="2.0"/>
<text x="458.3" y="171.5" font-size="17" stroke="#000" stroke-width="0.35" textLength="14.0" lengthAdjust="spacingAndGlyphs" text-anchor="end" >10</text>
<line x1="459.5" y1="206.2" x2="465.0" y2="206.2" stroke="#000" stroke-width="2.0"/>
<text x="458.3" y="210.7" font-size="17" stroke="#000" stroke-width="0.35" textLength="7.0" lengthAdjust="spacingAndGlyphs" text-anchor="end" >0</text>
<line x1="459.5" y1="245.3" x2="465.0" y2="245.3" stroke="#000" stroke-width="2.0"/>
<text x="458.3" y="249.8" font-size="17" stroke="#000" stroke-width="0.35" textLength="18.6" lengthAdjust="spacingAndGlyphs" text-anchor="end" >-10</text>
<line x1="462.0" y1="30.0" x2="465.0" y2="30.0" stroke="#000" stroke-width="2.0"/>
<line x1="462.0" y1="69.2" x2="465.0" y2="69.2" stroke="#000" stroke-width="2.0"/>
<line x1="462.0" y1="108.3" x2="465.0" y2="108.3" stroke="#000" stroke-width="2.0"/>
<line x1="462.0" y1="147.5" x2="465.0" y2="147.5" stroke="#000" stroke-width="2.0"/>
<line x1="462.0" y1="186.6" x2="465.0" y2="186.6" stroke="#000" stroke-width="2.0"/>
<line x1="462.0" y1="225.8" x2="465.0" y2="225.8" stroke="#000" stroke-width="2.0"/>
<line x1="465.0" y1="245.9" x2="465.0" y2="251.4" stroke="#000" stroke-width="2.0"/>
<text x="465.0" y="264.9" font-size="17" stroke="#000" stroke-width="0.35" textLength="7.9" lengthAdjust="spacingAndGlyphs" text-anchor="middle" >0</text>
<line x1="504.6" y1="245.9" x2="504.6" y2="248.9" stroke="#000" stroke-width="2.0"/>
<line x1="544.2" y1="245.9" x2="544.2" y2="251.4" stroke="#000" stroke-width="2.0"/>
<text x="544.2" y="264.9" font-size="17" stroke="#000" stroke-width="0.35" textLength="7.9" lengthAdjust="spacingAndGlyphs" text-anchor="middle" >1</text>
<line x1="583.8" y1="245.9" x2="583.8" y2="248.9" stroke="#000" stroke-width="2.0"/>
<line x1="623.4" y1="245.9" x2="623.4" y2="251.4" stroke="#000" stroke-width="2.0"/>
<text x="623.4" y="264.9" font-size="17" stroke="#000" stroke-width="0.35" textLength="7.9" lengthAdjust="spacingAndGlyphs" text-anchor="middle" >2</text>
<line x1="663.0" y1="245.9" x2="663.0" y2="248.9" stroke="#000" stroke-width="2.0"/>
<line x1="702.6" y1="245.9" x2="702.6" y2="251.4" stroke="#000" stroke-width="2.0"/>
<text x="702.6" y="264.9" font-size="17" stroke="#000" stroke-width="0.35" textLength="7.9" lengthAdjust="spacingAndGlyphs" text-anchor="middle" >3</text>
<line x1="742.2" y1="245.9" x2="742.2" y2="248.9" stroke="#000" stroke-width="2.0"/>
<line x1="781.8" y1="245.9" x2="781.8" y2="251.4" stroke="#000" stroke-width="2.0"/>
<text x="781.8" y="264.9" font-size="17" stroke="#000" stroke-width="0.35" textLength="7.9" lengthAdjust="spacingAndGlyphs" text-anchor="middle" >4</text>
<text x="624.0" y="288.0" font-size="16" stroke="#000" stroke-width="0.35" textLength="33.0" lengthAdjust="spacingAndGlyphs" text-anchor="middle" >E (V)</text>
<text x="0" y="0" font-size="15.5" stroke="#000" stroke-width="0.35" textLength="36.5" lengthAdjust="spacingAndGlyphs" text-anchor="middle" transform="translate(420.4 131.5) rotate(-90)" >I (µA)</text>
<text x="488.5" y="184.5" font-size="25.5" stroke="#000" stroke-width="0.3" textLength="15.8" lengthAdjust="spacingAndGlyphs" >B</text>
<text x="498.4" y="25.8" font-size="15" stroke="#000" stroke-width="0.35" textLength="103.2" lengthAdjust="spacingAndGlyphs" >dichloromethane</text>
<text x="502.1" y="55.2" font-size="15" stroke="#000" stroke-width="0.35" textLength="105.7" lengthAdjust="spacingAndGlyphs" >tetrahydrofurane</text>
<text x="488.0" y="102.0" font-size="15" stroke="#000" stroke-width="0.35" textLength="105.7" lengthAdjust="spacingAndGlyphs" >trichloromethane</text>
<text x="511.0" y="134.4" font-size="15" stroke="#000" stroke-width="0.35" textLength="76.5" lengthAdjust="spacingAndGlyphs" >ethyl acetate</text>
<text x="701.0" y="147.3" font-size="15" stroke="#000" stroke-width="0.35" textLength="47.2" lengthAdjust="spacingAndGlyphs" >dioxane</text>
<text x="587.2" y="231.6" font-size="15" stroke="#000" stroke-width="0.35" textLength="95.4" lengthAdjust="spacingAndGlyphs" >1-pentyl acetate</text>
<line x1="605.4" y1="20.9" x2="679.0" y2="20.0" stroke="#000" stroke-width="1.8"/>
<polygon points="689.0,19.9 677.0,23.4 677.0,16.6" fill="#000"/>
<line x1="611.8" y1="49.7" x2="676.4" y2="47.4" stroke="#000" stroke-width="1.8"/>
<polygon points="686.4,47.1 674.5,50.9 674.3,44.1" fill="#000"/>
<line x1="594.7" y1="100.6" x2="676.0" y2="187.6" stroke="#000" stroke-width="1.8"/>
<polygon points="682.8,194.9 672.1,188.5 677.1,183.8" fill="#000"/>
<line x1="588.8" y1="132.0" x2="658.7" y2="188.3" stroke="#000" stroke-width="1.8"/>
<polygon points="666.5,194.6 655.0,189.7 659.3,184.4" fill="#000"/>
<line x1="724.0" y1="152.0" x2="729.9" y2="193.9" stroke="#000" stroke-width="1.8"/>
<polygon points="731.3,203.8 726.3,192.4 733.0,191.4" fill="#000"/>
<line x1="686.0" y1="227.0" x2="734.4" y2="209.6" stroke="#000" stroke-width="1.8"/>
<polygon points="743.8,206.2 733.7,213.5 731.4,207.1" fill="#000"/>
</g>
<g id="panelC">
<path d="M242.9 576.5 C244.3 575.5 248.2 572.2 251.3 570.6 C254.4 569.0 258.1 567.6 261.5 566.8 C264.9 566.0 268.3 565.8 271.7 565.8 C275.1 565.8 278.5 566.4 281.9 566.8 C285.3 567.2 289.1 568.0 292.1 568.1 C295.1 568.2 296.7 568.1 299.7 567.3 C302.7 566.4 306.5 564.6 309.9 563.0 C313.3 561.4 316.3 559.4 320.1 557.9 C323.9 556.4 328.2 555.2 332.9 554.1 C337.6 553.0 343.1 551.9 348.2 551.0 C353.3 550.1 358.1 549.4 363.4 548.5 C368.7 547.6 374.6 546.2 380.0 545.4 C385.4 544.6 390.4 544.6 395.5 543.9 C400.6 543.2 406.1 542.4 410.8 541.3 C415.5 540.2 419.3 539.2 423.5 537.5 C427.7 535.8 431.9 533.6 436.2 531.1 C440.4 528.6 444.8 525.8 449.0 522.2 C453.2 518.6 457.9 514.0 461.7 509.5 C465.5 505.1 468.9 500.2 471.9 495.5 C474.9 490.8 476.7 487.8 479.6 481.5 C482.5 475.2 485.9 466.7 489.2 457.6 C492.5 448.5 496.4 435.9 499.4 427.0 C502.4 418.1 504.9 410.5 507.0 404.1 C509.1 397.7 510.4 393.9 512.1 388.8 C513.8 383.7 515.5 377.8 517.2 373.5 C518.9 369.2 520.2 366.1 522.3 363.3 C524.4 360.5 526.5 358.6 529.9 356.9 C533.3 355.2 537.8 354.0 542.7 353.1 C547.6 352.2 556.5 351.6 559.2 351.3" fill="none" stroke="#000" stroke-width="2.0" stroke-linejoin="round" stroke-linecap="round" />
<path d="M559.2 351.3 C556.9 352.5 549.7 356.1 545.2 358.7 C540.8 361.2 536.3 363.9 532.5 366.6 C528.7 369.3 525.1 372.0 522.3 374.8 C519.5 377.6 518.0 379.9 515.9 383.7 C513.8 387.5 511.9 392.4 509.6 397.7 C507.3 403.0 504.9 409.4 501.9 415.5 C498.9 421.6 495.5 428.2 491.7 434.6 C487.9 441.0 483.2 448.3 479.0 453.8 C474.8 459.3 470.3 463.8 466.2 467.8 C462.1 471.8 458.2 474.3 454.1 477.6 C450.0 480.9 446.0 484.4 441.3 487.8 C436.6 491.2 431.1 494.8 426.0 498.0 C420.9 501.2 415.0 504.3 410.8 506.9 C406.6 509.5 404.9 511.0 400.6 513.8 C396.4 516.6 389.8 520.5 385.3 523.5 C380.8 526.5 377.2 529.5 373.6 531.7 C370.0 533.9 366.8 535.4 363.4 536.8 C360.0 538.2 357.4 539.1 353.2 540.1 C349.0 541.1 343.1 541.7 338.0 542.6 C332.9 543.5 327.8 544.9 322.7 545.7 C317.6 546.6 313.3 547.1 307.4 547.7 C301.4 548.3 293.4 548.6 287.0 549.2 C280.6 549.8 274.3 550.8 269.2 551.5 C264.1 552.2 259.8 552.8 256.4 553.6 C253.0 554.4 251.1 555.0 248.8 556.1 C246.6 557.2 243.9 559.7 242.9 560.4" fill="none" stroke="#000" stroke-width="2.0" stroke-linejoin="round" stroke-linecap="round" />
<line x1="242.5" y1="345.8" x2="242.5" y2="584.0" stroke="#000" stroke-width="2.0"/>
<line x1="241.5" y1="583.0" x2="560.3" y2="583.0" stroke="#000" stroke-width="2.0"/>
<line x1="237.0" y1="346.9" x2="242.5" y2="346.9" stroke="#000" stroke-width="2.0"/>
<text x="236.0" y="351.9" font-size="17" stroke="#000" stroke-width="0.35" textLength="14.0" lengthAdjust="spacingAndGlyphs" text-anchor="end" >60</text>
<line x1="237.0" y1="380.6" x2="242.5" y2="380.6" stroke="#000" stroke-width="2.0"/>
<text x="236.0" y="385.6" font-size="17" stroke="#000" stroke-width="0.35" textLength="14.0" lengthAdjust="spacingAndGlyphs" text-anchor="end" >50</text>
<line x1="237.0" y1="414.3" x2="242.5" y2="414.3" stroke="#000" stroke-width="2.0"/>
<text x="236.0" y="419.3" font-size="17" stroke="#000" stroke-width="0.35" textLength="14.0" lengthAdjust="spacingAndGlyphs" text-anchor="end" >40</text>
<line x1="237.0" y1="448.0" x2="242.5" y2="448.0" stroke="#000" stroke-width="2.0"/>
<text x="236.0" y="453.0" font-size="17" stroke="#000" stroke-width="0.35" textLength="14.0" lengthAdjust="spacingAndGlyphs" text-anchor="end" >30</text>
<line x1="237.0" y1="481.7" x2="242.5" y2="481.7" stroke="#000" stroke-width="2.0"/>
<text x="236.0" y="486.7" font-size="17" stroke="#000" stroke-width="0.35" textLength="14.0" lengthAdjust="spacingAndGlyphs" text-anchor="end" >20</text>
<line x1="237.0" y1="515.4" x2="242.5" y2="515.4" stroke="#000" stroke-width="2.0"/>
<text x="236.0" y="520.4" font-size="17" stroke="#000" stroke-width="0.35" textLength="14.0" lengthAdjust="spacingAndGlyphs" text-anchor="end" >10</text>
<line x1="237.0" y1="549.1" x2="242.5" y2="549.1" stroke="#000" stroke-width="2.0"/>
<text x="236.0" y="554.1" font-size="17" stroke="#000" stroke-width="0.35" textLength="7.0" lengthAdjust="spacingAndGlyphs" text-anchor="end" >0</text>
<line x1="237.0" y1="582.8" x2="242.5" y2="582.8" stroke="#000" stroke-width="2.0"/>
<text x="236.0" y="587.8" font-size="17" stroke="#000" stroke-width="0.35" textLength="18.6" lengthAdjust="spacingAndGlyphs" text-anchor="end" >-10</text>
<line x1="239.5" y1="363.8" x2="242.5" y2="363.8" stroke="#000" stroke-width="2.0"/>
<line x1="239.5" y1="397.5" x2="242.5" y2="397.5" stroke="#000" stroke-width="2.0"/>
<line x1="239.5" y1="431.2" x2="242.5" y2="431.2" stroke="#000" stroke-width="2.0"/>
<line x1="239.5" y1="464.9" x2="242.5" y2="464.9" stroke="#000" stroke-width="2.0"/>
<line x1="239.5" y1="498.6" x2="242.5" y2="498.6" stroke="#000" stroke-width="2.0"/>
<line x1="239.5" y1="532.2" x2="242.5" y2="532.2" stroke="#000" stroke-width="2.0"/>
<line x1="239.5" y1="566.0" x2="242.5" y2="566.0" stroke="#000" stroke-width="2.0"/>
<line x1="242.5" y1="583.0" x2="242.5" y2="588.5" stroke="#000" stroke-width="2.0"/>
<text x="242.5" y="601.2" font-size="17" stroke="#000" stroke-width="0.35" textLength="7.9" lengthAdjust="spacingAndGlyphs" text-anchor="middle" >0</text>
<line x1="282.1" y1="583.0" x2="282.1" y2="586.0" stroke="#000" stroke-width="2.0"/>
<line x1="321.7" y1="583.0" x2="321.7" y2="588.5" stroke="#000" stroke-width="2.0"/>
<text x="321.7" y="601.2" font-size="17" stroke="#000" stroke-width="0.35" textLength="7.9" lengthAdjust="spacingAndGlyphs" text-anchor="middle" >1</text>
<line x1="361.3" y1="583.0" x2="361.3" y2="586.0" stroke="#000" stroke-width="2.0"/>
<line x1="400.9" y1="583.0" x2="400.9" y2="588.5" stroke="#000" stroke-width="2.0"/>
<text x="400.9" y="601.2" font-size="17" stroke="#000" stroke-width="0.35" textLength="7.9" lengthAdjust="spacingAndGlyphs" text-anchor="middle" >2</text>
<line x1="440.5" y1="583.0" x2="440.5" y2="586.0" stroke="#000" stroke-width="2.0"/>
<line x1="480.1" y1="583.0" x2="480.1" y2="588.5" stroke="#000" stroke-width="2.0"/>
<text x="480.1" y="601.2" font-size="17" stroke="#000" stroke-width="0.35" textLength="7.9" lengthAdjust="spacingAndGlyphs" text-anchor="middle" >3</text>
<line x1="519.7" y1="583.0" x2="519.7" y2="586.0" stroke="#000" stroke-width="2.0"/>
<line x1="559.3" y1="583.0" x2="559.3" y2="588.5" stroke="#000" stroke-width="2.0"/>
<text x="559.3" y="601.2" font-size="17" stroke="#000" stroke-width="0.35" textLength="7.9" lengthAdjust="spacingAndGlyphs" text-anchor="middle" >4</text>
<text x="401.0" y="625.0" font-size="16" stroke="#000" stroke-width="0.35" textLength="33.0" lengthAdjust="spacingAndGlyphs" text-anchor="middle" >E (V)</text>
<text x="0" y="0" font-size="15.5" stroke="#000" stroke-width="0.35" textLength="36.5" lengthAdjust="spacingAndGlyphs" text-anchor="middle" transform="translate(198.0 469.0) rotate(-90)" >I (µA)</text>
<text x="265.2" y="518.6" font-size="26" stroke="#000" stroke-width="0.3" textLength="17.6" lengthAdjust="spacingAndGlyphs" >C</text>
<text x="359.1" y="422.2" font-size="15.5" stroke="#000" stroke-width="0.3" textLength="68.6" lengthAdjust="spacingAndGlyphs" >acetonitrile</text>
</g>
</svg></body></html>
